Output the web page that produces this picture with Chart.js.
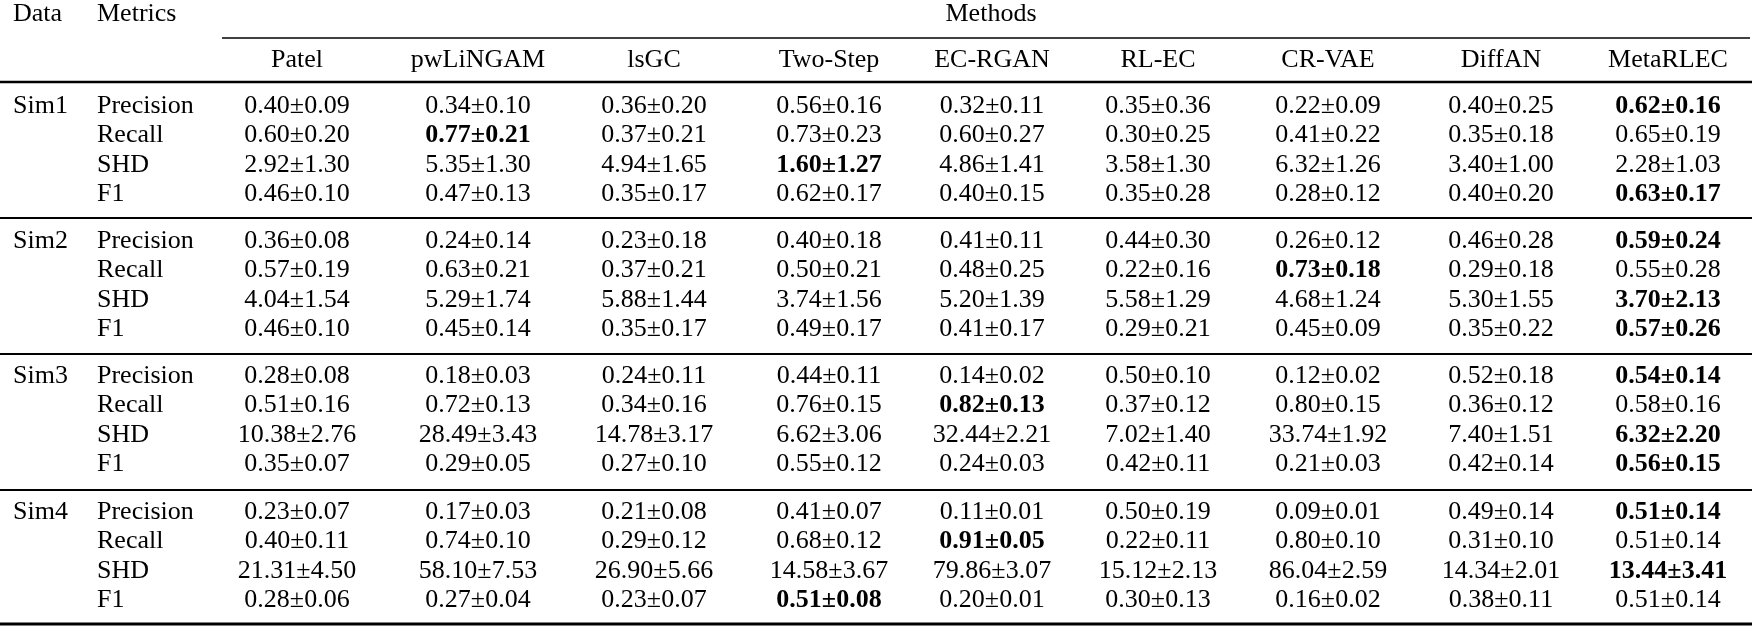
<!DOCTYPE html>
<html>
<head>
<meta charset="UTF-8" />
<script src="https://cdn.jsdelivr.net/npm/chart.js"></script>
<style>
  body { margin: 0; background: #fff; }
  #wrap { width: 1752px; height: 632px; }
</style>
</head>
<body>
<div id="wrap"><canvas id="tbl"></canvas></div>
<script>
const methods = ['Patel','pwLiNGAM','lsGC','Two-Step','EC-RGAN','RL-EC','CR-VAE','DiffAN','MetaRLEC'];
const datasetsNames = ['Sim1','Sim2','Sim3','Sim4'];
const metrics = ['Precision','Recall','SHD','F1'];

const sim1Mean = [[0.40,0.34,0.36,0.56,0.32,0.35,0.22,0.40,0.62],[0.60,0.77,0.37,0.73,0.60,0.30,0.41,0.35,0.65],[2.92,5.35,4.94,1.60,4.86,3.58,6.32,3.40,2.28],[0.46,0.47,0.35,0.62,0.40,0.35,0.28,0.40,0.63]];
const sim1Sd   = [[0.09,0.10,0.20,0.16,0.11,0.36,0.09,0.25,0.16],[0.20,0.21,0.21,0.23,0.27,0.25,0.22,0.18,0.19],[1.30,1.30,1.65,1.27,1.41,1.30,1.26,1.00,1.03],[0.10,0.13,0.17,0.17,0.15,0.28,0.12,0.20,0.17]];
const sim2Mean = [[0.36,0.24,0.23,0.40,0.41,0.44,0.26,0.46,0.59],[0.57,0.63,0.37,0.50,0.48,0.22,0.73,0.29,0.55],[4.04,5.29,5.88,3.74,5.20,5.58,4.68,5.30,3.70],[0.46,0.45,0.35,0.49,0.41,0.29,0.45,0.35,0.57]];
const sim2Sd   = [[0.08,0.14,0.18,0.18,0.11,0.30,0.12,0.28,0.24],[0.19,0.21,0.21,0.21,0.25,0.16,0.18,0.18,0.28],[1.54,1.74,1.44,1.56,1.39,1.29,1.24,1.55,2.13],[0.10,0.14,0.17,0.17,0.17,0.21,0.09,0.22,0.26]];
const sim3Mean = [[0.28,0.18,0.24,0.44,0.14,0.50,0.12,0.52,0.54],[0.51,0.72,0.34,0.76,0.82,0.37,0.80,0.36,0.58],[10.38,28.49,14.78,6.62,32.44,7.02,33.74,7.40,6.32],[0.35,0.29,0.27,0.55,0.24,0.42,0.21,0.42,0.56]];
const sim3Sd   = [[0.08,0.03,0.11,0.11,0.02,0.10,0.02,0.18,0.14],[0.16,0.13,0.16,0.15,0.13,0.12,0.15,0.12,0.16],[2.76,3.43,3.17,3.06,2.21,1.40,1.92,1.51,2.20],[0.07,0.05,0.10,0.12,0.03,0.11,0.03,0.14,0.15]];
const sim4Mean = [[0.23,0.17,0.21,0.41,0.11,0.50,0.09,0.49,0.51],[0.40,0.74,0.29,0.68,0.91,0.22,0.80,0.31,0.51],[21.31,58.10,26.90,14.58,79.86,15.12,86.04,14.34,13.44],[0.28,0.27,0.23,0.51,0.20,0.30,0.16,0.38,0.51]];
const sim4Sd   = [[0.07,0.03,0.08,0.07,0.01,0.19,0.01,0.14,0.14],[0.11,0.10,0.12,0.12,0.05,0.11,0.10,0.10,0.14],[4.50,7.53,5.66,3.67,3.07,2.13,2.59,2.01,3.41],[0.06,0.04,0.07,0.08,0.01,0.13,0.02,0.11,0.14]];
// index of the bold (best) method per metric row
const sim1Best = [8,1,3,8];
const sim2Best = [8,6,8,8];
const sim3Best = [8,4,8,8];
const sim4Best = [8,4,8,3];

const allMean = [sim1Mean, sim2Mean, sim3Mean, sim4Mean];
const allSd = [sim1Sd, sim2Sd, sim3Sd, sim4Sd];
const allBest = [sim1Best, sim2Best, sim3Best, sim4Best];

// layout (pixel units of the scales)
const colX = [13, 97];                  // left-aligned Data, Metrics
const methodX = [297,478,654,829,992,1158,1328,1501,1668];
const headY = 14, methodNameY = 60, methodsRuleY = 38, topRuleY = 82;
const groupY = [106, 241, 376, 512], rowPitch = 29.5;
const sepY = [218, 354, 490], bottomY = 624;

const points = [];
allMean.forEach((g, gi) => g.forEach((row, ri) => row.forEach((v, mi) => {
  points.push({ x: methodX[mi], y: groupY[gi] + ri * rowPitch,
    text: v.toFixed(2) + '±' + allSd[gi][ri][mi].toFixed(2),
    bold: allBest[gi][ri] === mi, align: 'center' });
})));
datasetsNames.forEach((n, gi) => {
  points.push({ x: colX[0], y: groupY[gi], text: n, align: 'left' });
  metrics.forEach((m, ri) => points.push({ x: colX[1], y: groupY[gi] + ri * rowPitch, text: m, align: 'left' }));
});
points.push({ x: colX[0], y: headY, text: 'Data', align: 'left' });
points.push({ x: colX[1], y: headY, text: 'Metrics', align: 'left' });
points.push({ x: 991, y: headY, text: 'Methods', align: 'center' });
methods.forEach((m, mi) => points.push({ x: methodX[mi], y: methodNameY, text: m, align: 'center' }));

const tablePlugin = {
  id: 'tablePlugin',
  afterDatasetsDraw(chart) {
    const ctx = chart.ctx, sx = chart.scales.x, sy = chart.scales.y;
    const meta = chart.getDatasetMeta(0);
    ctx.save();
    ctx.fillStyle = '#000';
    ctx.textBaseline = 'middle';
    meta.data.forEach((el, i) => {
      const p = points[i];
      ctx.font = (p.bold ? 'bold ' : '') + '26px "Liberation Serif", "DejaVu Serif", serif';
      ctx.textAlign = p.align;
      ctx.fillText(p.text, el.x, el.y);
    });
    ctx.strokeStyle = '#000';
    const hline = (x0, x1, y, w) => {
      ctx.lineWidth = w;
      ctx.beginPath();
      ctx.moveTo(sx.getPixelForValue(x0), sy.getPixelForValue(y));
      ctx.lineTo(sx.getPixelForValue(x1), sy.getPixelForValue(y));
      ctx.stroke();
    };
    hline(222, 1750, methodsRuleY, 1.5);
    hline(0, 1752, topRuleY, 2.5);
    sepY.forEach(y => hline(0, 1752, y, 2));
    hline(0, 1752, bottomY, 3);
    ctx.restore();
  }
};

new Chart(document.getElementById('tbl'), {
  type: 'scatter',
  data: { datasets: [{ data: points, pointRadius: 0, pointHoverRadius: 0 }] },
  options: {
    responsive: true, maintainAspectRatio: false, animation: false,
    layout: { padding: 0 },
    plugins: { legend: { display: false }, tooltip: { enabled: false } },
    scales: {
      x: { type: 'linear', min: 0, max: 1752, display: false },
      y: { type: 'linear', min: 0, max: 632, reverse: true, display: false }
    }
  },
  plugins: [tablePlugin]
});
</script>
</body>
</html>
